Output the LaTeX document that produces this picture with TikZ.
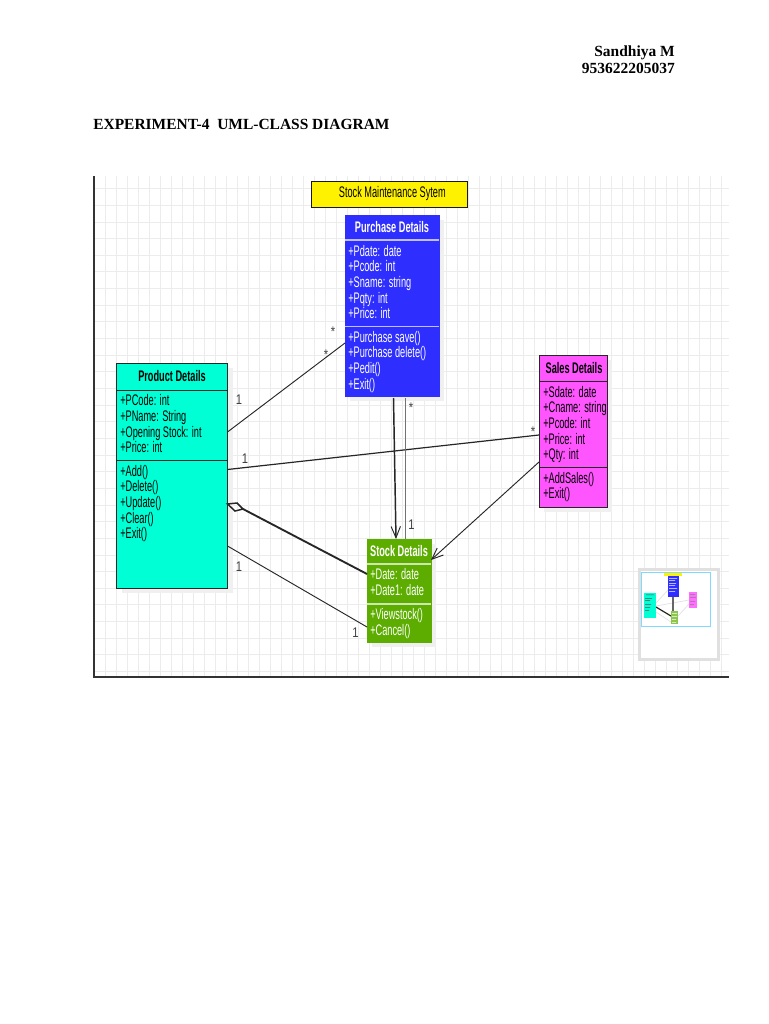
\documentclass[tikz,border=0pt]{standalone}
\usepackage{fontspec}
\setmainfont{Liberation Serif}
\newfontfamily\narrow[FakeStretch=0.6]{Liberation Sans}
\newfontfamily\mfont[FakeStretch=0.8]{Liberation Sans}
\usetikzlibrary{arrows.meta}
\definecolor{gridc}{gray}{0.925}
\definecolor{shad}{gray}{0.94}
\definecolor{blueb}{HTML}{2E2EFF}
\definecolor{cyanb}{HTML}{00FFD5}
\definecolor{pinkb}{HTML}{FF55FF}
\definecolor{greenb}{HTML}{5CAD00}
\tikzset{
  umlbox/.style={draw=#1,line width=0.7pt,anchor=north west,inner sep=0pt,outer sep=0pt},
  head/.style={font=\narrow\bfseries\fontsize{11.5}{13}\selectfont,anchor=center,inner sep=0pt},
  memb/.style={font=\narrow\fontsize{11.5}{11.7}\selectfont,anchor=north west,align=left,inner sep=0pt},
  mult/.style={font=\mfont\fontsize{10.5}{12}\selectfont,text=black!75,inner sep=0pt},
  conn/.style={line width=0.7pt,draw=black!85},
  openarr/.style={-{Straight Barb[length=8.5pt,width=7pt,line width=0.7pt]}},
}
\newcommand{\umlclass}[9]{% name x1 y1 x2 y2 sep1 sep2 fill line
  \fill[shad] (#2+5,#3+5) rectangle (#4+5,#5+5);
  \node[umlbox=#9,fill=#8,minimum width=#4 *0.75pt-#2 *0.75pt,minimum height=#5 *0.75pt-#3 *0.75pt] (#1) at (#2,#3) {};
  \draw[#9,line width=0.7pt] (#2,#6) -- (#4,#6);
  \draw[#9,line width=0.7pt] (#2,#7) -- (#4,#7);
}
\begin{document}
\begin{tikzpicture}[x=0.75pt,y=-0.75pt]
\useasboundingbox (0,0) rectangle (768,1024);
\fill[white] (0,0) rectangle (768,1024);
% grid
\foreach \gx in {1,...,57}{\draw[gridc,line width=0.7pt] ({94.7+\gx*11},176) -- ({94.7+\gx*11},677);}
\foreach \gy in {0,...,29}{\draw[gridc,line width=0.7pt] (94,{188.7+\gy*16.65}) -- (729,{188.7+\gy*16.65});}
\draw[black!80,line width=1.1pt] (94,176) -- (94,677) -- (729,677);
% page text
\node[font=\bfseries\fontsize{11.6}{14}\selectfont,anchor=east,inner sep=0pt] (author) at (675,53) {Sandhiya M};
\node[font=\bfseries\fontsize{11.6}{14}\selectfont,anchor=east,inner sep=0pt] (regno) at (675,68.5) {953622205037};
\node[font=\bfseries\fontsize{11.6}{14}\selectfont,anchor=west,inner sep=0pt] (exptitle) at (93,124) {EXPERIMENT-4\ \ UML-CLASS DIAGRAM};
% title
\node[draw=black!90,line width=0.65pt,fill=yellow,minimum width=117pt,minimum height=19.5pt,anchor=north west,inner sep=0pt,outer sep=0pt,font=\narrow\fontsize{11.5}{13}\selectfont] (title) at (311,181) {\hspace{5pt}Stock Maintenance Sytem};
% classes
\umlclass{purchase}{345}{215}{439}{396}{240}{326.5}{blueb}{blueb}
\umlclass{product}{116.5}{363}{227.5}{588}{390}{460.5}{cyanb}{black!85}
\umlclass{sales}{539}{355}{607}{507}{381}{467}{pinkb}{black!85}
\umlclass{stock}{367}{539}{431}{642}{564}{604}{greenb}{greenb}
\draw[white!70!blueb,line width=0.8pt] (345,240) -- (439,240) (345,326.5) -- (439,326.5);
\draw[white!70!greenb,line width=0.8pt] (367,564) -- (431,564) (367,604) -- (431,604);
% headers
\node[head,text=white] (purchaseh) at (392,227) {Purchase Details};
\node[head,text=black] (producth) at (172,376.5) {Product Details};
\node[head,text=black] (salesh) at (574,368.5) {Sales Details};
\node[head,text=white] (stockh) at (399,551.5) {Stock Details};
% members
\node[memb,text=white] (purchasea) at (348,245) {+Pdate: date\\+Pcode: int\\+Sname: string\\+Pqty: int\\+Price: int};
\node[memb,text=white] (purchasem) at (348,331) {+Purchase save()\\+Purchase delete()\\+Pedit()\\+Exit()};
\node[memb,text=black] (producta) at (120,394.5) {+PCode: int\\+PName: String\\+Opening Stock: int\\+Price: int};
\node[memb,text=black] (productm) at (120,465) {+Add()\\+Delete()\\+Update()\\+Clear()\\+Exit()};
\node[memb,text=black] (salesa) at (543,386) {+Sdate: date\\+Cname: string\\+Pcode: int\\+Price: int\\+Qty: int};
\node[memb,text=black] (salesm) at (543,472) {+AddSales()\\+Exit()};
\node[memb,text=white] (stocka) at (370,568.5) {+Date: date\\+Date1: date};
\node[memb,text=white] (stockm) at (370,608.5) {+Viewstock()\\+Cancel()};
% connectors
\draw[conn] (product.east |- 0,432) -- (purchase.west |- 0,343);
\draw[conn,line width=0.9pt] (product.east |- 0,469.5) -- (sales.west |- 0,435);
\draw[conn,line width=1.1pt,openarr] (393.5,0 |- purchase.south) ++(0,2) -- (396,0 |- stock.north);
\draw[black!55,line width=0.8pt] (405.5,0 |- purchase.south) ++(0,2) -- (405.5,0 |- stock.north);
\draw[conn,openarr] (sales.west |- 0,462) -- (stock.east |- 0,560);
\draw[conn,line width=1.1pt] (product.east |- 0,504) -- (237,503) -- (243,509) -- (235,511) -- cycle;
\draw[conn,line width=1.4pt] (243,509) -- (stock.west |- 0,574);
\draw[conn] (product.east |- 0,546) -- (stock.west |- 0,627);
% multiplicities
\node[mult] (m1) at (239,400) {1};
\node[mult] (m2) at (333,332) {*};
\node[mult] (m3) at (326,355) {*};
\node[mult] (m4) at (245,458.5) {1};
\node[mult] (m5) at (533,432) {*};
\node[mult] (m6) at (411,407.5) {*};
\node[mult] (m7) at (411.5,525) {1};
\node[mult] (m8) at (239,567) {1};
\node[mult] (m9) at (355.5,633) {1};
% overview
\fill[black!12] (638,568) rectangle (720,661);
\fill[white] (640.5,571) rectangle (717,657.5);
\draw[blue!30!cyan!50,line width=0.8pt] (641.5,572.5) rectangle (710.5,626.5);
\draw[black!12,line width=0.5pt] (656,603) -- (668,590) (656,606) -- (689,600) (689,604) -- (678,616) (656,612) -- (671,622);
\draw[black!60,line width=0.9pt] (673,596) -- (673,611);
\draw[black!85,line width=0.9pt] (656,607) -- (671,616);
\fill[yellow] (664,573) rectangle (682,576);
\fill[blueb] (668,576) rectangle (679,596.5);
\fill[white] (669,578) rectangle (677,578.6) (669,580) rectangle (675,580.6) (669,583) rectangle (676,583.6) (669,585) rectangle (675,585.6) (669,588) rectangle (677,588.6) (669,591) rectangle (675,591.6);
\fill[cyanb] (644,593) rectangle (656,617.5);
\fill[black!70] (646,594.5) rectangle (654,595) (645,598) rectangle (652,598.6) (645,600) rectangle (650,600.6) (645,604) rectangle (651,604.6) (645,607) rectangle (650,607.6) (645,610) rectangle (649,610.6);
\fill[pinkb!85] (689,592) rectangle (697,608);
\fill[black!50] (690,594) rectangle (695,594.6) (690,597) rectangle (696,597.6) (690,601) rectangle (695,601.6) (690,604) rectangle (694,604.6);
\fill[greenb!70] (671,611) rectangle (678,624);
\fill[white] (672,613) rectangle (677,613.6) (672,616) rectangle (677,616.6) (672,619) rectangle (676,619.6) (672,622) rectangle (676,622.6);
\end{tikzpicture}
\end{document}
